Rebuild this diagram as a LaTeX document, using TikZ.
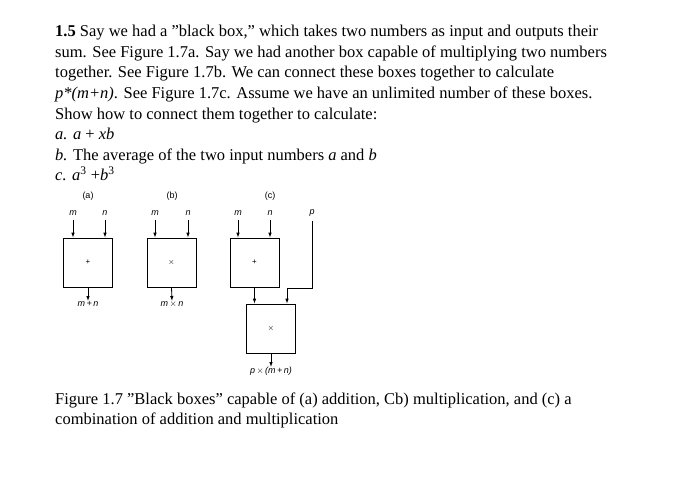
\documentclass[tikz,border=0pt]{standalone}
\usepackage{fontspec}
\usetikzlibrary{arrows.meta}
\setmainfont{Liberation Serif}
\newfontfamily\dsans{Liberation Sans}
\begin{document}
\begin{tikzpicture}[x=1pt,y=-1pt,
  txt/.style={anchor=base west,inner sep=0pt,font=\fontsize{16.5}{20}\selectfont},
  box/.style={draw,line width=0.6pt,minimum width=49pt,minimum height=49pt,inner sep=0pt,font=\dsans\fontsize{8}{9}\selectfont},
  lab/.style={inner sep=0pt,font=\dsans\itshape\fontsize{9}{10}\selectfont},
  hd/.style={inner sep=0pt,font=\dsans\fontsize{9}{10}\selectfont},
  arr/.style={-{Latex[length=5pt,width=3.5pt]},line width=0.8pt}]
\useasboundingbox (0,0) rectangle (700,476);
\node[txt] (t1) at (55,37) {\textbf{1.5} Say we had a "black box," which takes two numbers as input and outputs their};
\node[txt] (t2) at (55,57.5) {sum. See Figure 1.7a. Say we had another box capable of multiplying two numbers};
\node[txt] (t3) at (55,78) {together. See Figure 1.7b. We can connect these boxes together to calculate};
\node[txt] (t4) at (55,98.5) {\textit{p*(m+n)}. See Figure 1.7c. Assume we have an unlimited number of these boxes.};
\node[txt] (t5) at (55,119) {Show how to connect them together to calculate:};
\node[txt] (t6) at (55,139.5) {\textit{a. a} + \textit{xb}};
\node[txt] (t7) at (55,160) {\textit{b.} The average of the two input numbers \textit{a} and \textit{b}};
\node[txt] (t8) at (55,180.5) {\textit{c.} \textit{a}\textsuperscript{3} +\textit{b}\textsuperscript{3}};
\node[txt] (c1) at (55,404) {Figure 1.7 "Black boxes" capable of (a) addition, Cb) multiplication, and (c) a};
\node[txt] (c2) at (55,424.5) {combination of addition and multiplication};

% (a)
\node[hd] (ha) at (88,196) {(a)};
\node[box] (A) at (88,262.5) {+};
\node[lab] (am) at (73,213) {m};
\node[lab] (an) at (105,213) {n};
\coordinate (aout) at (88,301);
\draw[arr] ([yshift=-4pt]am.south) -- (am.south|-A.north);
\draw[arr] ([yshift=-4pt]an.south) -- (an.south|-A.north);
\draw[arr] (A.south) -- (aout);
\node[lab,anchor=north] (ares) at (aout) {m\,+\,n};

% (b)
\node[hd] (hb) at (172,196) {(b)};
\node[box] (B) at (171.5,262.5) {$\times$};
\node[lab] (bm) at (155,213) {m};
\node[lab] (bn) at (188,213) {n};
\coordinate (bout) at (172,301);
\draw[arr] ([yshift=-4pt]bm.south) -- (bm.south|-B.north);
\draw[arr] ([yshift=-4pt]bn.south) -- (bn.south|-B.north);
\draw[arr] (B.south) -- (bout);
\node[lab,anchor=north] (bres) at (bout) {m\,$\times$\,n};

% (c)
\node[hd] (hc) at (270,196) {(c)};
\node[box] (C) at (254.5,262.5) {+};
\node[box] (D) at (271,328.5) {$\times$};
\node[lab] (cm) at (238,213) {m};
\node[lab] (cn) at (270,213) {n};
\node[lab] (cp) at (312,213) {p};
\coordinate (pc) at (287,288);
\draw[arr] ([yshift=-4pt]cm.south) -- (cm.south|-C.north);
\draw[arr] ([yshift=-4pt]cn.south) -- (cn.south|-C.north);
\draw[arr] (C.south) -- (C.south|-D.north);
\draw[arr] ([yshift=-4pt]cp.south) -- (cp.south|-pc) -- (pc) -- (pc|-D.north);
\coordinate (dout) at (271,367);
\draw[arr] (D.south) -- (dout);
\node[lab,anchor=north] (dres) at (dout) {p\,$\times$\,(m\,+\,n)};
\end{tikzpicture}
\end{document}
